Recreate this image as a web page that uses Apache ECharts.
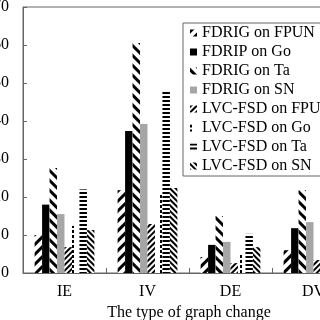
<!DOCTYPE html>
<html>
<head>
<meta charset="utf-8">
<script src="https://cdn.jsdelivr.net/npm/echarts@6/dist/echarts.min.js"></script>
<style>html,body{margin:0;padding:0;background:#fff}#c{width:320px;height:320px}</style>
</head>
<body>
<div id="c"></div>
<script>
const categories = ['IE', 'IV', 'DE', 'DV'];
const seriesNames = ['FDRIG on FPUN', 'FDRIP on Go', 'FDRIG on Ta', 'FDRIG on SN',
  'LVC-FSD on FPUN', 'LVC-FSD on Go', 'LVC-FSD on Ta', 'LVC-FSD on SN'];
const fdrigFpun = [10, 21.8, 4.2, 6];
const fdripGo = [18, 37.4, 7.4, 11.8];
const fdrigTa = [27.6, 60.5, 15, 21.8];
const fdrigSn = [15.5, 39.2, 8.2, 13.4];
const lvcFpun = [6.8, 12.9, 2.6, 3.4];
const lvcGo = [12.4, 21, 5, 6];
const lvcTa = [22, 47.6, 10.3, 11];
const lvcSn = [11.3, 22.4, 6.8, 5];
const yTicks = [0, 10, 20, 30, 40, 50, 60, 70];

const values = [fdrigFpun, fdripGo, fdrigTa, fdrigSn, lvcFpun, lvcGo, lvcTa, lvcSn];
const FONT = 'Liberation Serif';
const styles = [
  {color: '#fff', decal: {symbol: 'rect', dashArrayX: [1, 0], dashArrayY: [3, 4], rotation: -Math.PI / 4, color: '#000'}},
  {color: '#000'},
  {color: '#fff', decal: {symbol: 'rect', dashArrayX: [1, 0], dashArrayY: [3, 4], rotation: Math.PI / 4, color: '#000'}},
  {color: '#a6a6a6'},
  {color: '#fff', decal: {symbol: 'rect', dashArrayX: [1, 0], dashArrayY: [2, 2], rotation: -Math.PI / 4, color: '#000'}},
  {color: '#fff', decal: {symbol: 'rect', dashArrayX: [2, 6], dashArrayY: [3, 2], rotation: 0, color: '#000'}},
  {color: '#fff', decal: {symbol: 'rect', dashArrayX: [1, 0], dashArrayY: [2, 2], rotation: 0, color: '#000'}},
  {color: '#fff', decal: {symbol: 'rect', dashArrayX: [1, 0], dashArrayY: [2, 2], rotation: Math.PI / 4, color: '#000'}}
];

const chart = echarts.init(document.getElementById('c'), null, {renderer: 'canvas'});
chart.setOption({
  animation: false,
  backgroundColor: '#fff',
  grid: {left: 23, top: 7, width: 332, height: 266, show: true, borderColor: '#666', borderWidth: 1,
    backgroundColor: 'transparent', containLabel: false, outerBoundsMode: 'none'},
  legend: {
    orient: 'vertical', left: 183, top: 23,
    itemWidth: 7, itemHeight: 7, itemGap: 3,
    icon: 'rect',
    padding: [2, 40, 2, 7],
    borderColor: '#666', borderWidth: 1, backgroundColor: '#fff',
    textStyle: {fontFamily: FONT, fontSize: 16, color: '#000'},
    data: seriesNames
  },
  xAxis: {
    type: 'category', data: categories,
    axisLine: {lineStyle: {color: '#666', width: 1}},
    axisTick: {show: true, inside: true, length: 5, lineStyle: {color: '#666'}},
    axisLabel: {fontFamily: FONT, fontSize: 16, color: '#000', margin: 11},
    name: 'The type of graph change', nameLocation: 'middle', nameGap: 30,
    nameTextStyle: {fontFamily: FONT, fontSize: 16, color: '#000'}
  },
  yAxis: {
    type: 'value', min: yTicks[0], max: yTicks[yTicks.length - 1], interval: 10,
    axisLine: {show: true, lineStyle: {color: '#666', width: 1}},
    axisTick: {show: true, inside: true, length: 4, lineStyle: {color: '#666'}},
    splitLine: {show: false},
    axisLabel: {fontFamily: FONT, fontSize: 16, color: '#000', margin: 14}
  },
  series: values.map((v, i) => ({
    name: seriesNames[i], type: 'bar', data: v,
    barGap: '0%', barCategoryGap: '28%',
    itemStyle: styles[i]
  }))
});
</script>
</body>
</html>
